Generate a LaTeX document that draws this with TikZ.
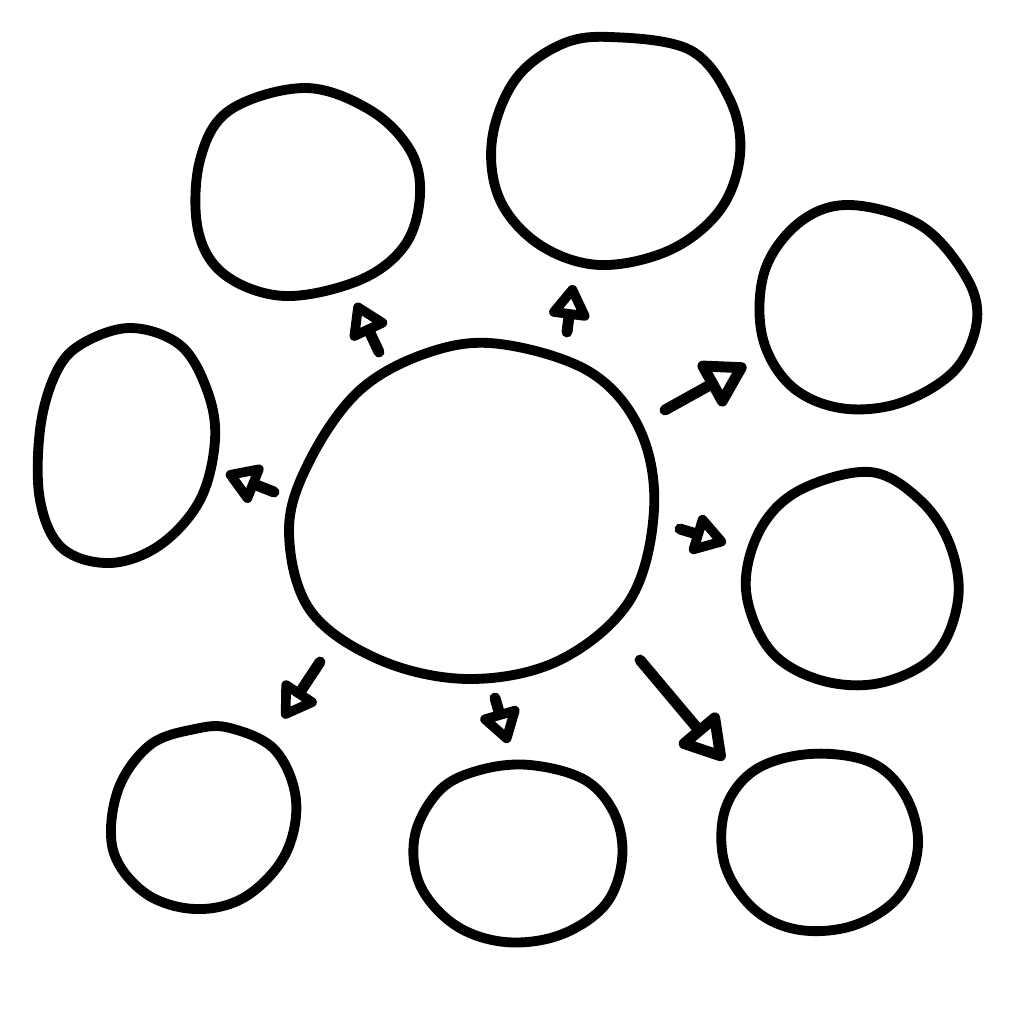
\documentclass[tikz,border=0pt]{standalone}
\usetikzlibrary{arrows.meta}
\begin{document}
\begin{tikzpicture}[x=0.01cm,y=-0.01cm,
  blob/.style={line width=2.8pt, line join=round, black},
  arr/.style={line width=3.1pt, line cap=round, line join=round, black,
    -{Triangle[open,length=11pt,width=13pt,line width=3.1pt,round]}},
  bigarr/.style={line width=3.1pt, line cap=round, line join=round, black,
    -{Triangle[open,length=14pt,width=16pt,line width=3.1pt,round]}}]
\fill[white] (0,0) rectangle (1024,1024);
\useasboundingbox (0,0) rectangle (1024,1024);
% circles
\draw[blob] plot[smooth cycle, tension=0.6] coordinates {(500,344) (590,372) (640,430) (654,510) (630,600) (560,660) (470,679) (380,660) (310,610) (289,530) (310,460) (360,390) (430,352)};
\coordinate (c0) at (471,511);
\draw[blob] plot[smooth cycle, tension=0.6] coordinates {(305,88) (370,110) (410,150) (420,195) (405,245) (360,280) (285,296) (225,275) (198,230) (200,160) (230,110)};
\coordinate (c1) at (307,191);
\draw[blob] plot[smooth cycle, tension=0.6] coordinates {(610,37) (690,50) (730,100) (740,155) (720,210) (670,250) (600,265) (540,245) (500,200) (492,140) (515,80) (560,45)};
\coordinate (c2) at (615,150);
\draw[blob] plot[smooth cycle, tension=0.6] coordinates {(850,205) (920,225) (965,275) (977,320) (955,370) (900,403) (840,408) (790,385) (762,335) (765,270) (800,222)};
\coordinate (c3) at (867,305);
\draw[blob] plot[smooth cycle, tension=0.6] coordinates {(80,345) (130,328) (180,345) (207,390) (215,440) (200,500) (160,545) (110,563) (62,548) (40,500) (40,430) (55,375)};
\coordinate (c4) at (126,445);
\draw[blob] plot[smooth cycle, tension=0.6] coordinates {(870,472) (920,500) (950,545) (958,600) (935,655) (880,683) (820,680) (770,650) (746,590) (760,530) (800,490)};
\coordinate (c5) at (851,575);
\draw[blob] plot[smooth cycle, tension=0.6] coordinates {(230,728) (275,750) (296,800) (285,855) (245,897) (195,909) (145,893) (113,850) (118,790) (150,745) (195,729)};
\coordinate (c6) at (203,817);
\draw[blob] plot[smooth cycle, tension=0.6] coordinates {(530,765) (585,780) (615,815) (622,860) (605,905) (560,935) (505,942) (455,925) (420,885) (415,835) (440,790) (480,770)};
\coordinate (c7) at (518,852);
\draw[blob] plot[smooth cycle, tension=0.6] coordinates {(810,754) (870,762) (905,795) (918,845) (900,895) (855,925) (800,930) (755,910) (725,865) (725,810) (755,770)};
\coordinate (c8) at (819,841);
% arrow endpoints
\coordinate (a1s) at (379,352); \coordinate (a1e) at (356,303);
\coordinate (a2s) at (567,332); \coordinate (a2e) at (573,285);
\coordinate (a3s) at (665,410); \coordinate (a3e) at (746,365);
\coordinate (a4s) at (274,492); \coordinate (a4e) at (226,473);
\coordinate (a5s) at (680,529); \coordinate (a5e) at (726,543);
\coordinate (a6s) at (320,662); \coordinate (a6e) at (283,718);
\coordinate (a7s) at (495,698); \coordinate (a7e) at (508,743);
\coordinate (a8s) at (640,660); \coordinate (a8e) at (724,760);
\draw[arr] (a1s) -- (a1e);
\draw[arr] (a2s) -- (a2e);
\draw[bigarr] (a3s) -- (a3e);
\draw[arr] (a4s) -- (a4e);
\draw[arr] (a5s) -- (a5e);
\draw[arr] (a6s) -- (a6e);
\draw[arr] (a7s) -- (a7e);
\draw[bigarr] (a8s) -- (a8e);
\end{tikzpicture}
\end{document}
